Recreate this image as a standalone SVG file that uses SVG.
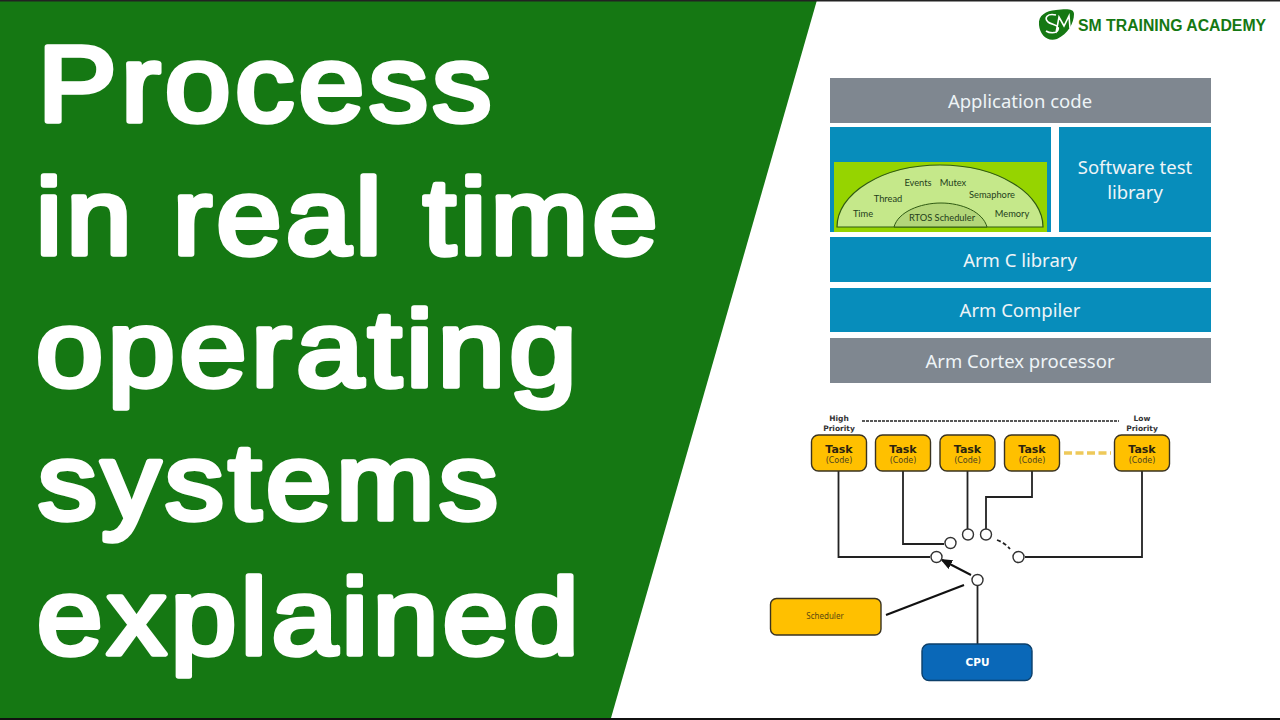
<svg xmlns="http://www.w3.org/2000/svg" width="1280" height="720" viewBox="0 0 1280 720">
<defs>
<style>
.title{font:108px "Liberation Sans",Arial,sans-serif;letter-spacing:4.3px;fill:#fff;stroke:#fff;stroke-width:5.500;stroke-linejoin:round;stroke-linecap:round}
.blk{font:18.500px "Noto Sans","Open Sans",sans-serif;fill:#eef4f7;text-anchor:middle}
.lay{font:9.300px Lato,"Noto Sans",sans-serif;fill:#24401a;text-anchor:middle}
.task{fill:#ffc000;stroke:#3a3320;stroke-width:1.4}
.tt{font:bold 11px "DejaVu Sans",sans-serif;fill:#2a2410;text-anchor:middle}
.tc{font:8px "DejaVu Sans",sans-serif;fill:#4a4020;text-anchor:middle}
.pr{font:bold 7.500px "DejaVu Sans",sans-serif;fill:#333;text-anchor:middle}
.w{fill:none;stroke:#222;stroke-width:1.8}
.sw{fill:#fff;stroke:#333;stroke-width:1.4}
</style>
<marker id="arr" markerWidth="12" markerHeight="12" refX="10" refY="5" orient="auto" markerUnits="userSpaceOnUse"><path d="M0 0L12 5L0 10Z" fill="#111"/></marker>
</defs>
<rect width="1280" height="720" fill="#fff"/>
<polygon points="0,0 817,0 611,718 0,718" fill="#157813"/>
<rect x="0" y="0" width="1280" height="1.5" fill="#222"/>
<rect x="0" y="718" width="1280" height="2" fill="#111"/>
<g id="title">
<text class="title" transform="translate(38 120.500) scale(1.09 1)">Process</text>
<text class="title" transform="translate(36 253.700) scale(1.08 1)">in real time</text>
<text class="title" transform="translate(36 386) scale(1.115 1)">operating</text>
<text class="title" transform="translate(38 519) scale(1.09 1)">systems</text>
<text class="title" transform="translate(37 653.500) scale(1.09 1)">explained</text>
</g>
<g id="logo">
<path d="M1039 25C1038 15 1046 11 1056 10C1065 9 1074 8 1074 14C1074 23 1068 34 1057 39C1047 42 1040 35 1039 25Z" fill="#157813"/>
<path d="M1056 15C1047 13 1044 18 1048 22C1052 25 1060 25 1058 30C1056 34 1049 33 1046 31M1056 33L1059 17L1064 26L1069 16L1070 28" fill="none" stroke="#fff" stroke-width="1.6"/>
<text x="1078" y="31" font-family="Liberation Sans,Arial,sans-serif" font-weight="bold" font-size="15.8" fill="#157813">SM TRAINING ACADEMY</text>
</g>
<g id="app"><rect x="830" y="78" width="381" height="45" fill="#7f8790"/><text class="blk" x="1020" y="107.500">Application code</text></g>
<g id="rtos">
<rect x="830" y="127" width="221" height="105" fill="#078dbb"/>
<rect x="834" y="162" width="213" height="70" fill="#96d400"/>
<path d="M837 227A103 62 0 0 1 1043 227Z" fill="#c5e88a" stroke="#2f5a12" stroke-width="1.2"/>
<path d="M894 227C898 212 920 203 941 203C962 203 983 212 987 227Z" fill="#b3d67a" stroke="#2f5a12" stroke-width="1"/>
<text class="lay" x="918" y="186">Events</text><text class="lay" x="953" y="186">Mutex</text>
<text class="lay" x="888" y="202">Thread</text><text class="lay" x="992" y="198">Semaphore</text>
<text class="lay" x="863" y="217">Time</text><text class="lay" x="1012" y="217">Memory</text>
<text class="lay" x="942" y="221">RTOS Scheduler</text>
</g>
<g id="stl"><rect x="1059" y="127" width="152" height="105" fill="#078dbb"/><text class="blk" x="1135" y="174">Software test</text><text class="blk" x="1135" y="199">library</text></g>
<g id="clib"><rect x="830" y="237" width="381" height="45" fill="#078dbb"/><text class="blk" x="1020" y="267">Arm C library</text></g>
<g id="compiler"><rect x="830" y="288" width="381" height="44" fill="#078dbb"/><text class="blk" x="1020" y="317">Arm Compiler</text></g>
<g id="cortex"><rect x="830" y="338" width="381" height="45" fill="#7f8790"/><text class="blk" x="1020" y="368">Arm Cortex processor</text></g>
<g id="connectors">
<path class="w" d="M838.500 471V557H930M903 471V544H944M967.500 471V529M1032 471V497H986V529M1142 471V557H1025M977.500 586V644"/>
<path d="M1064 453H1111" fill="none" stroke="#eec95a" stroke-width="3.400" stroke-dasharray="8 3.500"/>
<path d="M862 421H1119" fill="none" stroke="#222" stroke-width="1.300" stroke-dasharray="3 1"/>
<path d="M997 540Q1005 543 1010 549" fill="none" stroke="#222" stroke-width="1.800" stroke-dasharray="4 2.500"/>
<path d="M971 575L942 560" fill="none" stroke="#111" stroke-width="2" marker-end="url(#arr)"/>
<path d="M886 615L964 585" fill="none" stroke="#111" stroke-width="2.200"/>
</g>
<g id="switches">
<circle class="sw" cx="936.500" cy="557" r="5.500"/><circle class="sw" cx="950.500" cy="543" r="5.500"/><circle class="sw" cx="968" cy="534.500" r="5.500"/><circle class="sw" cx="986" cy="534.500" r="5.500"/><circle class="sw" cx="1018.500" cy="557" r="5.500"/><circle class="sw" cx="977.500" cy="580" r="5.500"/>
</g>
<g id="priority"><text class="pr" x="839" y="421">High</text><text class="pr" x="839" y="431">Priority</text><text class="pr" x="1142" y="421">Low</text><text class="pr" x="1142" y="431">Priority</text></g>
<g id="task1"><rect class="task" x="811.500" y="435" width="55" height="36" rx="7"/><text class="tt" x="839" y="453">Task</text><text class="tc" x="839" y="463">(Code)</text></g>
<g id="task2"><rect class="task" x="875.500" y="435" width="55" height="36" rx="7"/><text class="tt" x="903" y="453">Task</text><text class="tc" x="903" y="463">(Code)</text></g>
<g id="task3"><rect class="task" x="940" y="435" width="55" height="36" rx="7"/><text class="tt" x="967.500" y="453">Task</text><text class="tc" x="967.500" y="463">(Code)</text></g>
<g id="task4"><rect class="task" x="1004.500" y="435" width="55" height="36" rx="7"/><text class="tt" x="1032" y="453">Task</text><text class="tc" x="1032" y="463">(Code)</text></g>
<g id="task5"><rect class="task" x="1114.500" y="435" width="55" height="36" rx="7"/><text class="tt" x="1142" y="453">Task</text><text class="tc" x="1142" y="463">(Code)</text></g>
<g id="scheduler"><rect class="task" x="770.500" y="598.500" width="110.500" height="36.500" rx="6"/><text x="825" y="619" font-family="Noto Sans,sans-serif" font-size="8" fill="#5a4a10" text-anchor="middle">Scheduler</text></g>
<g id="cpu"><rect x="922" y="644" width="110" height="36.500" rx="7" fill="#0a68b8" stroke="#0c3f6a" stroke-width="1.400"/><text x="977.500" y="666" font-family="DejaVu Sans,sans-serif" font-weight="bold" font-size="10.500" fill="#fff" text-anchor="middle">CPU</text></g>
</svg>
